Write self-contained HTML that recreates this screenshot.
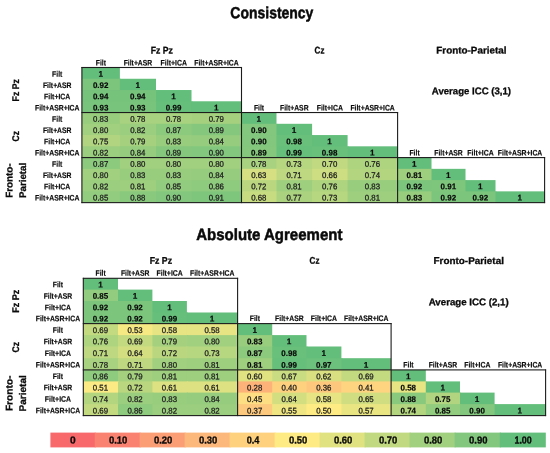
<!DOCTYPE html>
<html lang="en">
<head>
<meta charset="utf-8">
<title>ICC matrices: Consistency and Absolute Agreement</title>
<style>
html,body{margin:0;padding:0;background:#fff;}
body{width:550px;height:453px;overflow:hidden;}
svg{display:block;font-family:"Liberation Sans",sans-serif;}
</style>
</head>
<body>
<svg width="550" height="453" viewBox="0 0 550 453" text-rendering="geometricPrecision">
<rect x="0" y="0" width="550" height="453" fill="#ffffff"/>
<rect x="81.90" y="67.50" width="38.00" height="12.26" fill="#63be7b"/>
<rect x="81.90" y="78.76" width="39.00" height="12.26" fill="#7cc57c"/>
<rect x="119.90" y="78.76" width="36.10" height="12.26" fill="#63be7b"/>
<rect x="81.90" y="90.02" width="39.00" height="12.26" fill="#76c37c"/>
<rect x="119.90" y="90.02" width="37.10" height="12.26" fill="#76c37c"/>
<rect x="156.00" y="90.02" width="35.50" height="12.26" fill="#63be7b"/>
<rect x="81.90" y="101.28" width="39.00" height="12.26" fill="#79c47c"/>
<rect x="119.90" y="101.28" width="37.10" height="12.26" fill="#79c47c"/>
<rect x="156.00" y="101.28" width="36.50" height="12.26" fill="#66bf7b"/>
<rect x="191.50" y="101.28" width="50.00" height="12.26" fill="#63be7b"/>
<rect x="81.90" y="112.54" width="39.00" height="12.26" fill="#98cd7e"/>
<rect x="119.90" y="112.54" width="37.10" height="12.26" fill="#a8d27f"/>
<rect x="156.00" y="112.54" width="36.50" height="12.26" fill="#a8d27f"/>
<rect x="191.50" y="112.54" width="51.00" height="12.26" fill="#a5d17f"/>
<rect x="241.50" y="112.54" width="35.00" height="12.26" fill="#63be7b"/>
<rect x="81.90" y="123.80" width="39.00" height="12.26" fill="#a1d07f"/>
<rect x="119.90" y="123.80" width="37.10" height="12.26" fill="#9bce7e"/>
<rect x="156.00" y="123.80" width="36.50" height="12.26" fill="#8cca7d"/>
<rect x="191.50" y="123.80" width="51.00" height="12.26" fill="#85c87d"/>
<rect x="241.50" y="123.80" width="36.00" height="12.26" fill="#82c77d"/>
<rect x="276.50" y="123.80" width="35.60" height="12.26" fill="#63be7b"/>
<rect x="81.90" y="135.06" width="39.00" height="12.26" fill="#b1d480"/>
<rect x="119.90" y="135.06" width="37.10" height="12.26" fill="#a5d17f"/>
<rect x="156.00" y="135.06" width="36.50" height="12.26" fill="#98cd7e"/>
<rect x="191.50" y="135.06" width="51.00" height="12.26" fill="#95cc7e"/>
<rect x="241.50" y="135.06" width="36.00" height="12.26" fill="#82c77d"/>
<rect x="276.50" y="135.06" width="36.60" height="12.26" fill="#69c07b"/>
<rect x="312.10" y="135.06" width="35.50" height="12.26" fill="#63be7b"/>
<rect x="81.90" y="146.32" width="39.00" height="12.26" fill="#9bce7e"/>
<rect x="119.90" y="146.32" width="37.10" height="12.26" fill="#95cc7e"/>
<rect x="156.00" y="146.32" width="36.50" height="12.26" fill="#85c87d"/>
<rect x="191.50" y="146.32" width="51.00" height="12.26" fill="#82c77d"/>
<rect x="241.50" y="146.32" width="36.00" height="12.26" fill="#85c87d"/>
<rect x="276.50" y="146.32" width="36.60" height="12.26" fill="#66bf7b"/>
<rect x="312.10" y="146.32" width="36.50" height="12.26" fill="#69c07b"/>
<rect x="347.60" y="146.32" width="50.00" height="12.26" fill="#63be7b"/>
<rect x="81.90" y="157.58" width="39.00" height="12.26" fill="#8cca7d"/>
<rect x="119.90" y="157.58" width="37.10" height="12.26" fill="#a1d07f"/>
<rect x="156.00" y="157.58" width="36.50" height="12.26" fill="#a1d07f"/>
<rect x="191.50" y="157.58" width="51.00" height="12.26" fill="#a1d07f"/>
<rect x="241.50" y="157.58" width="36.00" height="12.26" fill="#a8d27f"/>
<rect x="276.50" y="157.58" width="36.60" height="12.26" fill="#b7d680"/>
<rect x="312.10" y="157.58" width="36.50" height="12.26" fill="#c1d980"/>
<rect x="347.60" y="157.58" width="51.00" height="12.26" fill="#aed47f"/>
<rect x="397.60" y="157.58" width="33.90" height="12.26" fill="#63be7b"/>
<rect x="81.90" y="168.84" width="39.00" height="12.26" fill="#a1d07f"/>
<rect x="119.90" y="168.84" width="37.10" height="12.26" fill="#98cd7e"/>
<rect x="156.00" y="168.84" width="36.50" height="12.26" fill="#98cd7e"/>
<rect x="191.50" y="168.84" width="51.00" height="12.26" fill="#95cc7e"/>
<rect x="241.50" y="168.84" width="36.00" height="12.26" fill="#d6df82"/>
<rect x="276.50" y="168.84" width="36.60" height="12.26" fill="#bdd880"/>
<rect x="312.10" y="168.84" width="36.50" height="12.26" fill="#cddd81"/>
<rect x="347.60" y="168.84" width="51.00" height="12.26" fill="#b4d580"/>
<rect x="397.60" y="168.84" width="34.90" height="12.26" fill="#9ecf7e"/>
<rect x="431.50" y="168.84" width="34.00" height="12.26" fill="#63be7b"/>
<rect x="81.90" y="180.10" width="39.00" height="12.26" fill="#9bce7e"/>
<rect x="119.90" y="180.10" width="37.10" height="12.26" fill="#9ecf7e"/>
<rect x="156.00" y="180.10" width="36.50" height="12.26" fill="#92cc7e"/>
<rect x="191.50" y="180.10" width="51.00" height="12.26" fill="#8fcb7e"/>
<rect x="241.50" y="180.10" width="36.00" height="12.26" fill="#bad780"/>
<rect x="276.50" y="180.10" width="36.60" height="12.26" fill="#9ecf7e"/>
<rect x="312.10" y="180.10" width="36.50" height="12.26" fill="#aed47f"/>
<rect x="347.60" y="180.10" width="51.00" height="12.26" fill="#98cd7e"/>
<rect x="397.60" y="180.10" width="34.90" height="12.26" fill="#7cc57c"/>
<rect x="431.50" y="180.10" width="35.00" height="12.26" fill="#7fc67d"/>
<rect x="465.50" y="180.10" width="30.00" height="12.26" fill="#63be7b"/>
<rect x="81.90" y="191.36" width="39.00" height="11.26" fill="#92cc7e"/>
<rect x="119.90" y="191.36" width="37.10" height="11.26" fill="#88c97d"/>
<rect x="156.00" y="191.36" width="36.50" height="11.26" fill="#82c77d"/>
<rect x="191.50" y="191.36" width="51.00" height="11.26" fill="#7fc67d"/>
<rect x="241.50" y="191.36" width="36.00" height="11.26" fill="#c7db81"/>
<rect x="276.50" y="191.36" width="36.60" height="11.26" fill="#abd37f"/>
<rect x="312.10" y="191.36" width="36.50" height="11.26" fill="#b7d680"/>
<rect x="347.60" y="191.36" width="51.00" height="11.26" fill="#9ecf7e"/>
<rect x="397.60" y="191.36" width="34.90" height="11.26" fill="#98cd7e"/>
<rect x="431.50" y="191.36" width="35.00" height="11.26" fill="#7cc57c"/>
<rect x="465.50" y="191.36" width="31.00" height="11.26" fill="#7cc57c"/>
<rect x="495.50" y="191.36" width="49.10" height="11.26" fill="#63be7b"/>
<rect x="81.35" y="67.00" width="1.10" height="136.12" fill="#1c1c1c"/>
<rect x="240.95" y="67.00" width="1.10" height="136.12" fill="#1c1c1c"/>
<rect x="397.05" y="112.04" width="1.10" height="91.08" fill="#1c1c1c"/>
<rect x="544.05" y="157.08" width="1.10" height="46.04" fill="#1c1c1c"/>
<rect x="81.40" y="66.95" width="160.60" height="1.10" fill="#1c1c1c"/>
<rect x="81.40" y="111.99" width="316.70" height="1.10" fill="#1c1c1c"/>
<rect x="81.40" y="157.03" width="463.70" height="1.10" fill="#1c1c1c"/>
<rect x="81.40" y="202.07" width="463.70" height="1.10" fill="#1c1c1c"/>
<text transform="translate(100.70 76.76) scale(1.0000 1) rotate(0.05)" text-anchor="middle" font-size="8.20" font-weight="700" fill="#0a0a0a" stroke="#0a0a0a" stroke-width="0.18">1</text>
<text transform="translate(100.70 88.02) scale(0.9788 1) rotate(0.05)" text-anchor="middle" font-size="8.20" font-weight="700" fill="#0a0a0a" stroke="#0a0a0a" stroke-width="0.18">0.92</text>
<text transform="translate(137.75 88.02) scale(1.0000 1) rotate(0.05)" text-anchor="middle" font-size="8.20" font-weight="700" fill="#0a0a0a" stroke="#0a0a0a" stroke-width="0.18">1</text>
<text transform="translate(100.70 99.28) scale(0.9788 1) rotate(0.05)" text-anchor="middle" font-size="8.20" font-weight="700" fill="#0a0a0a" stroke="#0a0a0a" stroke-width="0.18">0.94</text>
<text transform="translate(137.75 99.28) scale(0.9788 1) rotate(0.05)" text-anchor="middle" font-size="8.20" font-weight="700" fill="#0a0a0a" stroke="#0a0a0a" stroke-width="0.18">0.94</text>
<text transform="translate(173.55 99.28) scale(1.0000 1) rotate(0.05)" text-anchor="middle" font-size="8.20" font-weight="700" fill="#0a0a0a" stroke="#0a0a0a" stroke-width="0.18">1</text>
<text transform="translate(100.70 110.54) scale(0.9788 1) rotate(0.05)" text-anchor="middle" font-size="8.20" font-weight="700" fill="#0a0a0a" stroke="#0a0a0a" stroke-width="0.18">0.93</text>
<text transform="translate(137.75 110.54) scale(0.9788 1) rotate(0.05)" text-anchor="middle" font-size="8.20" font-weight="700" fill="#0a0a0a" stroke="#0a0a0a" stroke-width="0.18">0.93</text>
<text transform="translate(173.55 110.54) scale(0.9788 1) rotate(0.05)" text-anchor="middle" font-size="8.20" font-weight="700" fill="#0a0a0a" stroke="#0a0a0a" stroke-width="0.18">0.99</text>
<text transform="translate(216.30 110.54) scale(1.0000 1) rotate(0.05)" text-anchor="middle" font-size="8.20" font-weight="700" fill="#0a0a0a" stroke="#0a0a0a" stroke-width="0.18">1</text>
<text transform="translate(100.70 121.80) scale(0.9537 1) rotate(0.05)" text-anchor="middle" font-size="8.20" font-weight="400" fill="#1e1e1e" stroke="#1e1e1e" stroke-width="0.28">0.83</text>
<text transform="translate(137.75 121.80) scale(0.9537 1) rotate(0.05)" text-anchor="middle" font-size="8.20" font-weight="400" fill="#1e1e1e" stroke="#1e1e1e" stroke-width="0.28">0.78</text>
<text transform="translate(173.55 121.80) scale(0.9537 1) rotate(0.05)" text-anchor="middle" font-size="8.20" font-weight="400" fill="#1e1e1e" stroke="#1e1e1e" stroke-width="0.28">0.78</text>
<text transform="translate(216.30 121.80) scale(0.9537 1) rotate(0.05)" text-anchor="middle" font-size="8.20" font-weight="400" fill="#1e1e1e" stroke="#1e1e1e" stroke-width="0.28">0.79</text>
<text transform="translate(258.80 121.80) scale(1.0000 1) rotate(0.05)" text-anchor="middle" font-size="8.20" font-weight="700" fill="#0a0a0a" stroke="#0a0a0a" stroke-width="0.18">1</text>
<text transform="translate(100.70 133.06) scale(0.9537 1) rotate(0.05)" text-anchor="middle" font-size="8.20" font-weight="400" fill="#1e1e1e" stroke="#1e1e1e" stroke-width="0.28">0.80</text>
<text transform="translate(137.75 133.06) scale(0.9537 1) rotate(0.05)" text-anchor="middle" font-size="8.20" font-weight="400" fill="#1e1e1e" stroke="#1e1e1e" stroke-width="0.28">0.82</text>
<text transform="translate(173.55 133.06) scale(0.9537 1) rotate(0.05)" text-anchor="middle" font-size="8.20" font-weight="400" fill="#1e1e1e" stroke="#1e1e1e" stroke-width="0.28">0.87</text>
<text transform="translate(216.30 133.06) scale(0.9537 1) rotate(0.05)" text-anchor="middle" font-size="8.20" font-weight="400" fill="#1e1e1e" stroke="#1e1e1e" stroke-width="0.28">0.89</text>
<text transform="translate(258.80 133.06) scale(0.9788 1) rotate(0.05)" text-anchor="middle" font-size="8.20" font-weight="700" fill="#0a0a0a" stroke="#0a0a0a" stroke-width="0.18">0.90</text>
<text transform="translate(294.10 133.06) scale(1.0000 1) rotate(0.05)" text-anchor="middle" font-size="8.20" font-weight="700" fill="#0a0a0a" stroke="#0a0a0a" stroke-width="0.18">1</text>
<text transform="translate(100.70 144.32) scale(0.9537 1) rotate(0.05)" text-anchor="middle" font-size="8.20" font-weight="400" fill="#1e1e1e" stroke="#1e1e1e" stroke-width="0.28">0.75</text>
<text transform="translate(137.75 144.32) scale(0.9537 1) rotate(0.05)" text-anchor="middle" font-size="8.20" font-weight="400" fill="#1e1e1e" stroke="#1e1e1e" stroke-width="0.28">0.79</text>
<text transform="translate(173.55 144.32) scale(0.9537 1) rotate(0.05)" text-anchor="middle" font-size="8.20" font-weight="400" fill="#1e1e1e" stroke="#1e1e1e" stroke-width="0.28">0.83</text>
<text transform="translate(216.30 144.32) scale(0.9537 1) rotate(0.05)" text-anchor="middle" font-size="8.20" font-weight="400" fill="#1e1e1e" stroke="#1e1e1e" stroke-width="0.28">0.84</text>
<text transform="translate(258.80 144.32) scale(0.9788 1) rotate(0.05)" text-anchor="middle" font-size="8.20" font-weight="700" fill="#0a0a0a" stroke="#0a0a0a" stroke-width="0.18">0.90</text>
<text transform="translate(294.10 144.32) scale(0.9788 1) rotate(0.05)" text-anchor="middle" font-size="8.20" font-weight="700" fill="#0a0a0a" stroke="#0a0a0a" stroke-width="0.18">0.98</text>
<text transform="translate(329.65 144.32) scale(1.0000 1) rotate(0.05)" text-anchor="middle" font-size="8.20" font-weight="700" fill="#0a0a0a" stroke="#0a0a0a" stroke-width="0.18">1</text>
<text transform="translate(100.70 155.58) scale(0.9537 1) rotate(0.05)" text-anchor="middle" font-size="8.20" font-weight="400" fill="#1e1e1e" stroke="#1e1e1e" stroke-width="0.28">0.82</text>
<text transform="translate(137.75 155.58) scale(0.9537 1) rotate(0.05)" text-anchor="middle" font-size="8.20" font-weight="400" fill="#1e1e1e" stroke="#1e1e1e" stroke-width="0.28">0.84</text>
<text transform="translate(173.55 155.58) scale(0.9537 1) rotate(0.05)" text-anchor="middle" font-size="8.20" font-weight="400" fill="#1e1e1e" stroke="#1e1e1e" stroke-width="0.28">0.89</text>
<text transform="translate(216.30 155.58) scale(0.9537 1) rotate(0.05)" text-anchor="middle" font-size="8.20" font-weight="400" fill="#1e1e1e" stroke="#1e1e1e" stroke-width="0.28">0.90</text>
<text transform="translate(258.80 155.58) scale(0.9788 1) rotate(0.05)" text-anchor="middle" font-size="8.20" font-weight="700" fill="#0a0a0a" stroke="#0a0a0a" stroke-width="0.18">0.89</text>
<text transform="translate(294.10 155.58) scale(0.9788 1) rotate(0.05)" text-anchor="middle" font-size="8.20" font-weight="700" fill="#0a0a0a" stroke="#0a0a0a" stroke-width="0.18">0.99</text>
<text transform="translate(329.65 155.58) scale(0.9788 1) rotate(0.05)" text-anchor="middle" font-size="8.20" font-weight="700" fill="#0a0a0a" stroke="#0a0a0a" stroke-width="0.18">0.98</text>
<text transform="translate(372.40 155.58) scale(1.0000 1) rotate(0.05)" text-anchor="middle" font-size="8.20" font-weight="700" fill="#0a0a0a" stroke="#0a0a0a" stroke-width="0.18">1</text>
<text transform="translate(100.70 166.84) scale(0.9537 1) rotate(0.05)" text-anchor="middle" font-size="8.20" font-weight="400" fill="#1e1e1e" stroke="#1e1e1e" stroke-width="0.28">0.87</text>
<text transform="translate(137.75 166.84) scale(0.9537 1) rotate(0.05)" text-anchor="middle" font-size="8.20" font-weight="400" fill="#1e1e1e" stroke="#1e1e1e" stroke-width="0.28">0.80</text>
<text transform="translate(173.55 166.84) scale(0.9537 1) rotate(0.05)" text-anchor="middle" font-size="8.20" font-weight="400" fill="#1e1e1e" stroke="#1e1e1e" stroke-width="0.28">0.80</text>
<text transform="translate(216.30 166.84) scale(0.9537 1) rotate(0.05)" text-anchor="middle" font-size="8.20" font-weight="400" fill="#1e1e1e" stroke="#1e1e1e" stroke-width="0.28">0.80</text>
<text transform="translate(258.80 166.84) scale(0.9537 1) rotate(0.05)" text-anchor="middle" font-size="8.20" font-weight="400" fill="#1e1e1e" stroke="#1e1e1e" stroke-width="0.28">0.78</text>
<text transform="translate(294.10 166.84) scale(0.9537 1) rotate(0.05)" text-anchor="middle" font-size="8.20" font-weight="400" fill="#1e1e1e" stroke="#1e1e1e" stroke-width="0.28">0.73</text>
<text transform="translate(329.65 166.84) scale(0.9537 1) rotate(0.05)" text-anchor="middle" font-size="8.20" font-weight="400" fill="#1e1e1e" stroke="#1e1e1e" stroke-width="0.28">0.70</text>
<text transform="translate(372.40 166.84) scale(0.9537 1) rotate(0.05)" text-anchor="middle" font-size="8.20" font-weight="400" fill="#1e1e1e" stroke="#1e1e1e" stroke-width="0.28">0.76</text>
<text transform="translate(414.35 166.84) scale(1.0000 1) rotate(0.05)" text-anchor="middle" font-size="8.20" font-weight="700" fill="#0a0a0a" stroke="#0a0a0a" stroke-width="0.18">1</text>
<text transform="translate(100.70 178.10) scale(0.9537 1) rotate(0.05)" text-anchor="middle" font-size="8.20" font-weight="400" fill="#1e1e1e" stroke="#1e1e1e" stroke-width="0.28">0.80</text>
<text transform="translate(137.75 178.10) scale(0.9537 1) rotate(0.05)" text-anchor="middle" font-size="8.20" font-weight="400" fill="#1e1e1e" stroke="#1e1e1e" stroke-width="0.28">0.83</text>
<text transform="translate(173.55 178.10) scale(0.9537 1) rotate(0.05)" text-anchor="middle" font-size="8.20" font-weight="400" fill="#1e1e1e" stroke="#1e1e1e" stroke-width="0.28">0.83</text>
<text transform="translate(216.30 178.10) scale(0.9537 1) rotate(0.05)" text-anchor="middle" font-size="8.20" font-weight="400" fill="#1e1e1e" stroke="#1e1e1e" stroke-width="0.28">0.84</text>
<text transform="translate(258.80 178.10) scale(0.9537 1) rotate(0.05)" text-anchor="middle" font-size="8.20" font-weight="400" fill="#1e1e1e" stroke="#1e1e1e" stroke-width="0.28">0.63</text>
<text transform="translate(294.10 178.10) scale(0.9537 1) rotate(0.05)" text-anchor="middle" font-size="8.20" font-weight="400" fill="#1e1e1e" stroke="#1e1e1e" stroke-width="0.28">0.71</text>
<text transform="translate(329.65 178.10) scale(0.9537 1) rotate(0.05)" text-anchor="middle" font-size="8.20" font-weight="400" fill="#1e1e1e" stroke="#1e1e1e" stroke-width="0.28">0.66</text>
<text transform="translate(372.40 178.10) scale(0.9537 1) rotate(0.05)" text-anchor="middle" font-size="8.20" font-weight="400" fill="#1e1e1e" stroke="#1e1e1e" stroke-width="0.28">0.74</text>
<text transform="translate(414.35 178.10) scale(0.9788 1) rotate(0.05)" text-anchor="middle" font-size="8.20" font-weight="700" fill="#0a0a0a" stroke="#0a0a0a" stroke-width="0.18">0.81</text>
<text transform="translate(448.30 178.10) scale(1.0000 1) rotate(0.05)" text-anchor="middle" font-size="8.20" font-weight="700" fill="#0a0a0a" stroke="#0a0a0a" stroke-width="0.18">1</text>
<text transform="translate(100.70 189.36) scale(0.9537 1) rotate(0.05)" text-anchor="middle" font-size="8.20" font-weight="400" fill="#1e1e1e" stroke="#1e1e1e" stroke-width="0.28">0.82</text>
<text transform="translate(137.75 189.36) scale(0.9537 1) rotate(0.05)" text-anchor="middle" font-size="8.20" font-weight="400" fill="#1e1e1e" stroke="#1e1e1e" stroke-width="0.28">0.81</text>
<text transform="translate(173.55 189.36) scale(0.9537 1) rotate(0.05)" text-anchor="middle" font-size="8.20" font-weight="400" fill="#1e1e1e" stroke="#1e1e1e" stroke-width="0.28">0.85</text>
<text transform="translate(216.30 189.36) scale(0.9537 1) rotate(0.05)" text-anchor="middle" font-size="8.20" font-weight="400" fill="#1e1e1e" stroke="#1e1e1e" stroke-width="0.28">0.86</text>
<text transform="translate(258.80 189.36) scale(0.9537 1) rotate(0.05)" text-anchor="middle" font-size="8.20" font-weight="400" fill="#1e1e1e" stroke="#1e1e1e" stroke-width="0.28">0.72</text>
<text transform="translate(294.10 189.36) scale(0.9537 1) rotate(0.05)" text-anchor="middle" font-size="8.20" font-weight="400" fill="#1e1e1e" stroke="#1e1e1e" stroke-width="0.28">0.81</text>
<text transform="translate(329.65 189.36) scale(0.9537 1) rotate(0.05)" text-anchor="middle" font-size="8.20" font-weight="400" fill="#1e1e1e" stroke="#1e1e1e" stroke-width="0.28">0.76</text>
<text transform="translate(372.40 189.36) scale(0.9537 1) rotate(0.05)" text-anchor="middle" font-size="8.20" font-weight="400" fill="#1e1e1e" stroke="#1e1e1e" stroke-width="0.28">0.83</text>
<text transform="translate(414.35 189.36) scale(0.9788 1) rotate(0.05)" text-anchor="middle" font-size="8.20" font-weight="700" fill="#0a0a0a" stroke="#0a0a0a" stroke-width="0.18">0.92</text>
<text transform="translate(448.30 189.36) scale(0.9788 1) rotate(0.05)" text-anchor="middle" font-size="8.20" font-weight="700" fill="#0a0a0a" stroke="#0a0a0a" stroke-width="0.18">0.91</text>
<text transform="translate(480.30 189.36) scale(1.0000 1) rotate(0.05)" text-anchor="middle" font-size="8.20" font-weight="700" fill="#0a0a0a" stroke="#0a0a0a" stroke-width="0.18">1</text>
<text transform="translate(100.70 200.62) scale(0.9537 1) rotate(0.05)" text-anchor="middle" font-size="8.20" font-weight="400" fill="#1e1e1e" stroke="#1e1e1e" stroke-width="0.28">0.85</text>
<text transform="translate(137.75 200.62) scale(0.9537 1) rotate(0.05)" text-anchor="middle" font-size="8.20" font-weight="400" fill="#1e1e1e" stroke="#1e1e1e" stroke-width="0.28">0.88</text>
<text transform="translate(173.55 200.62) scale(0.9537 1) rotate(0.05)" text-anchor="middle" font-size="8.20" font-weight="400" fill="#1e1e1e" stroke="#1e1e1e" stroke-width="0.28">0.90</text>
<text transform="translate(216.30 200.62) scale(0.9537 1) rotate(0.05)" text-anchor="middle" font-size="8.20" font-weight="400" fill="#1e1e1e" stroke="#1e1e1e" stroke-width="0.28">0.91</text>
<text transform="translate(258.80 200.62) scale(0.9537 1) rotate(0.05)" text-anchor="middle" font-size="8.20" font-weight="400" fill="#1e1e1e" stroke="#1e1e1e" stroke-width="0.28">0.68</text>
<text transform="translate(294.10 200.62) scale(0.9537 1) rotate(0.05)" text-anchor="middle" font-size="8.20" font-weight="400" fill="#1e1e1e" stroke="#1e1e1e" stroke-width="0.28">0.77</text>
<text transform="translate(329.65 200.62) scale(0.9537 1) rotate(0.05)" text-anchor="middle" font-size="8.20" font-weight="400" fill="#1e1e1e" stroke="#1e1e1e" stroke-width="0.28">0.73</text>
<text transform="translate(372.40 200.62) scale(0.9537 1) rotate(0.05)" text-anchor="middle" font-size="8.20" font-weight="400" fill="#1e1e1e" stroke="#1e1e1e" stroke-width="0.28">0.81</text>
<text transform="translate(414.35 200.62) scale(0.9788 1) rotate(0.05)" text-anchor="middle" font-size="8.20" font-weight="700" fill="#0a0a0a" stroke="#0a0a0a" stroke-width="0.18">0.83</text>
<text transform="translate(448.30 200.62) scale(0.9788 1) rotate(0.05)" text-anchor="middle" font-size="8.20" font-weight="700" fill="#0a0a0a" stroke="#0a0a0a" stroke-width="0.18">0.92</text>
<text transform="translate(480.30 200.62) scale(0.9788 1) rotate(0.05)" text-anchor="middle" font-size="8.20" font-weight="700" fill="#0a0a0a" stroke="#0a0a0a" stroke-width="0.18">0.92</text>
<text transform="translate(519.85 200.62) scale(1.0000 1) rotate(0.05)" text-anchor="middle" font-size="8.20" font-weight="700" fill="#0a0a0a" stroke="#0a0a0a" stroke-width="0.18">1</text>
<text transform="translate(57.20 76.66) scale(0.8500 1) rotate(0.05)" text-anchor="middle" font-size="8.00" font-weight="700" fill="#0a0a0a" stroke="#0a0a0a" stroke-width="0.18">Filt</text>
<text transform="translate(57.20 87.92) scale(0.8492 1) rotate(0.05)" text-anchor="middle" font-size="8.00" font-weight="700" fill="#0a0a0a" stroke="#0a0a0a" stroke-width="0.18">Filt+ASR</text>
<text transform="translate(57.20 99.18) scale(0.8636 1) rotate(0.05)" text-anchor="middle" font-size="8.00" font-weight="700" fill="#0a0a0a" stroke="#0a0a0a" stroke-width="0.18">Filt+ICA</text>
<text transform="translate(57.20 110.44) scale(0.8536 1) rotate(0.05)" text-anchor="middle" font-size="8.00" font-weight="700" fill="#0a0a0a" stroke="#0a0a0a" stroke-width="0.18">Filt+ASR+ICA</text>
<text transform="translate(57.20 121.70) scale(0.8500 1) rotate(0.05)" text-anchor="middle" font-size="8.00" font-weight="700" fill="#0a0a0a" stroke="#0a0a0a" stroke-width="0.18">Filt</text>
<text transform="translate(57.20 132.96) scale(0.8492 1) rotate(0.05)" text-anchor="middle" font-size="8.00" font-weight="700" fill="#0a0a0a" stroke="#0a0a0a" stroke-width="0.18">Filt+ASR</text>
<text transform="translate(57.20 144.22) scale(0.8636 1) rotate(0.05)" text-anchor="middle" font-size="8.00" font-weight="700" fill="#0a0a0a" stroke="#0a0a0a" stroke-width="0.18">Filt+ICA</text>
<text transform="translate(57.20 155.48) scale(0.8536 1) rotate(0.05)" text-anchor="middle" font-size="8.00" font-weight="700" fill="#0a0a0a" stroke="#0a0a0a" stroke-width="0.18">Filt+ASR+ICA</text>
<text transform="translate(57.20 166.74) scale(0.8500 1) rotate(0.05)" text-anchor="middle" font-size="8.00" font-weight="700" fill="#0a0a0a" stroke="#0a0a0a" stroke-width="0.18">Filt</text>
<text transform="translate(57.20 178.00) scale(0.8492 1) rotate(0.05)" text-anchor="middle" font-size="8.00" font-weight="700" fill="#0a0a0a" stroke="#0a0a0a" stroke-width="0.18">Filt+ASR</text>
<text transform="translate(57.20 189.26) scale(0.8636 1) rotate(0.05)" text-anchor="middle" font-size="8.00" font-weight="700" fill="#0a0a0a" stroke="#0a0a0a" stroke-width="0.18">Filt+ICA</text>
<text transform="translate(57.20 200.52) scale(0.8536 1) rotate(0.05)" text-anchor="middle" font-size="8.00" font-weight="700" fill="#0a0a0a" stroke="#0a0a0a" stroke-width="0.18">Filt+ASR+ICA</text>
<text transform="translate(100.90 65.50) scale(0.8500 1) rotate(0.05)" text-anchor="middle" font-size="8.00" font-weight="700" fill="#0a0a0a" stroke="#0a0a0a" stroke-width="0.18">Filt</text>
<text transform="translate(137.95 65.50) scale(0.8492 1) rotate(0.05)" text-anchor="middle" font-size="8.00" font-weight="700" fill="#0a0a0a" stroke="#0a0a0a" stroke-width="0.18">Filt+ASR</text>
<text transform="translate(173.75 65.50) scale(0.8636 1) rotate(0.05)" text-anchor="middle" font-size="8.00" font-weight="700" fill="#0a0a0a" stroke="#0a0a0a" stroke-width="0.18">Filt+ICA</text>
<text transform="translate(216.50 65.50) scale(0.8536 1) rotate(0.05)" text-anchor="middle" font-size="8.00" font-weight="700" fill="#0a0a0a" stroke="#0a0a0a" stroke-width="0.18">Filt+ASR+ICA</text>
<text transform="translate(259.00 110.54) scale(0.8500 1) rotate(0.05)" text-anchor="middle" font-size="8.00" font-weight="700" fill="#0a0a0a" stroke="#0a0a0a" stroke-width="0.18">Filt</text>
<text transform="translate(294.30 110.54) scale(0.8492 1) rotate(0.05)" text-anchor="middle" font-size="8.00" font-weight="700" fill="#0a0a0a" stroke="#0a0a0a" stroke-width="0.18">Filt+ASR</text>
<text transform="translate(329.85 110.54) scale(0.8636 1) rotate(0.05)" text-anchor="middle" font-size="8.00" font-weight="700" fill="#0a0a0a" stroke="#0a0a0a" stroke-width="0.18">Filt+ICA</text>
<text transform="translate(372.60 110.54) scale(0.8536 1) rotate(0.05)" text-anchor="middle" font-size="8.00" font-weight="700" fill="#0a0a0a" stroke="#0a0a0a" stroke-width="0.18">Filt+ASR+ICA</text>
<text transform="translate(414.55 155.58) scale(0.8500 1) rotate(0.05)" text-anchor="middle" font-size="8.00" font-weight="700" fill="#0a0a0a" stroke="#0a0a0a" stroke-width="0.18">Filt</text>
<text transform="translate(448.50 155.58) scale(0.8492 1) rotate(0.05)" text-anchor="middle" font-size="8.00" font-weight="700" fill="#0a0a0a" stroke="#0a0a0a" stroke-width="0.18">Filt+ASR</text>
<text transform="translate(480.50 155.58) scale(0.8636 1) rotate(0.05)" text-anchor="middle" font-size="8.00" font-weight="700" fill="#0a0a0a" stroke="#0a0a0a" stroke-width="0.18">Filt+ICA</text>
<text transform="translate(520.05 155.58) scale(0.8536 1) rotate(0.05)" text-anchor="middle" font-size="8.00" font-weight="700" fill="#0a0a0a" stroke="#0a0a0a" stroke-width="0.18">Filt+ASR+ICA</text>
<rect x="83.30" y="278.30" width="34.70" height="12.30" fill="#63be7b"/>
<rect x="83.30" y="289.60" width="35.70" height="12.40" fill="#92cc7e"/>
<rect x="118.00" y="289.60" width="34.40" height="12.40" fill="#63be7b"/>
<rect x="83.30" y="301.00" width="35.70" height="12.50" fill="#7cc57c"/>
<rect x="118.00" y="301.00" width="35.40" height="12.50" fill="#7cc57c"/>
<rect x="152.40" y="301.00" width="34.50" height="12.50" fill="#63be7b"/>
<rect x="83.30" y="312.50" width="35.70" height="12.10" fill="#7cc57c"/>
<rect x="118.00" y="312.50" width="35.40" height="12.10" fill="#7cc57c"/>
<rect x="152.40" y="312.50" width="35.50" height="12.10" fill="#66bf7b"/>
<rect x="186.90" y="312.50" width="50.70" height="12.10" fill="#63be7b"/>
<rect x="83.30" y="323.60" width="35.70" height="12.50" fill="#c4da81"/>
<rect x="118.00" y="323.60" width="35.40" height="12.50" fill="#f6e883"/>
<rect x="152.40" y="323.60" width="35.50" height="12.50" fill="#e6e483"/>
<rect x="186.90" y="323.60" width="51.70" height="12.50" fill="#e6e483"/>
<rect x="237.60" y="323.60" width="34.60" height="12.50" fill="#63be7b"/>
<rect x="83.30" y="335.10" width="35.70" height="12.40" fill="#aed47f"/>
<rect x="118.00" y="335.10" width="35.40" height="12.40" fill="#c4da81"/>
<rect x="152.40" y="335.10" width="35.50" height="12.40" fill="#a5d17f"/>
<rect x="186.90" y="335.10" width="51.70" height="12.40" fill="#a1d07f"/>
<rect x="237.60" y="335.10" width="35.60" height="12.40" fill="#98cd7e"/>
<rect x="272.20" y="335.10" width="34.30" height="12.40" fill="#63be7b"/>
<rect x="83.30" y="346.50" width="35.70" height="12.70" fill="#bdd880"/>
<rect x="118.00" y="346.50" width="35.40" height="12.70" fill="#d3de81"/>
<rect x="152.40" y="346.50" width="35.50" height="12.70" fill="#bad780"/>
<rect x="186.90" y="346.50" width="51.70" height="12.70" fill="#b7d680"/>
<rect x="237.60" y="346.50" width="35.60" height="12.70" fill="#8cca7d"/>
<rect x="272.20" y="346.50" width="35.30" height="12.70" fill="#69c07b"/>
<rect x="306.50" y="346.50" width="34.90" height="12.70" fill="#63be7b"/>
<rect x="83.30" y="358.20" width="35.70" height="12.70" fill="#a8d27f"/>
<rect x="118.00" y="358.20" width="35.40" height="12.70" fill="#bdd880"/>
<rect x="152.40" y="358.20" width="35.50" height="12.70" fill="#a1d07f"/>
<rect x="186.90" y="358.20" width="51.70" height="12.70" fill="#9ecf7e"/>
<rect x="237.60" y="358.20" width="35.60" height="12.70" fill="#9ecf7e"/>
<rect x="272.20" y="358.20" width="35.30" height="12.70" fill="#66bf7b"/>
<rect x="306.50" y="358.20" width="35.90" height="12.70" fill="#6cc17c"/>
<rect x="341.40" y="358.20" width="49.70" height="12.70" fill="#63be7b"/>
<rect x="83.30" y="369.90" width="35.70" height="12.50" fill="#8fcb7e"/>
<rect x="118.00" y="369.90" width="35.40" height="12.50" fill="#a5d17f"/>
<rect x="152.40" y="369.90" width="35.50" height="12.50" fill="#9ecf7e"/>
<rect x="186.90" y="369.90" width="51.70" height="12.50" fill="#9ecf7e"/>
<rect x="237.60" y="369.90" width="35.60" height="12.50" fill="#e0e282"/>
<rect x="272.20" y="369.90" width="35.30" height="12.50" fill="#cadc81"/>
<rect x="306.50" y="369.90" width="35.90" height="12.50" fill="#dae082"/>
<rect x="341.40" y="369.90" width="50.70" height="12.50" fill="#c4da81"/>
<rect x="391.10" y="369.90" width="34.70" height="12.50" fill="#63be7b"/>
<rect x="83.30" y="381.40" width="35.70" height="12.20" fill="#fcea84"/>
<rect x="118.00" y="381.40" width="35.40" height="12.20" fill="#bad780"/>
<rect x="152.40" y="381.40" width="35.50" height="12.20" fill="#dde182"/>
<rect x="186.90" y="381.40" width="51.70" height="12.20" fill="#dde182"/>
<rect x="237.60" y="381.40" width="35.60" height="12.20" fill="#fcb279"/>
<rect x="272.20" y="381.40" width="35.30" height="12.20" fill="#fed17f"/>
<rect x="306.50" y="381.40" width="35.90" height="12.20" fill="#fdc77d"/>
<rect x="341.40" y="381.40" width="50.70" height="12.20" fill="#fed480"/>
<rect x="391.10" y="381.40" width="35.70" height="12.20" fill="#e6e483"/>
<rect x="425.80" y="381.40" width="34.20" height="12.20" fill="#63be7b"/>
<rect x="83.30" y="392.60" width="35.70" height="12.50" fill="#b4d580"/>
<rect x="118.00" y="392.60" width="35.40" height="12.50" fill="#9bce7e"/>
<rect x="152.40" y="392.60" width="35.50" height="12.50" fill="#98cd7e"/>
<rect x="186.90" y="392.60" width="51.70" height="12.50" fill="#95cc7e"/>
<rect x="237.60" y="392.60" width="35.60" height="12.50" fill="#fede82"/>
<rect x="272.20" y="392.60" width="35.30" height="12.50" fill="#d3de81"/>
<rect x="306.50" y="392.60" width="35.90" height="12.50" fill="#e6e483"/>
<rect x="341.40" y="392.60" width="50.70" height="12.50" fill="#d0de81"/>
<rect x="391.10" y="392.60" width="35.70" height="12.50" fill="#88c97d"/>
<rect x="425.80" y="392.60" width="35.20" height="12.50" fill="#b1d480"/>
<rect x="460.00" y="392.60" width="34.60" height="12.50" fill="#63be7b"/>
<rect x="83.30" y="404.10" width="35.70" height="11.50" fill="#c4da81"/>
<rect x="118.00" y="404.10" width="35.40" height="11.50" fill="#8fcb7e"/>
<rect x="152.40" y="404.10" width="35.50" height="11.50" fill="#9bce7e"/>
<rect x="186.90" y="404.10" width="51.70" height="11.50" fill="#9bce7e"/>
<rect x="237.60" y="404.10" width="35.60" height="11.50" fill="#fdc97e"/>
<rect x="272.20" y="404.10" width="35.30" height="11.50" fill="#efe683"/>
<rect x="306.50" y="404.10" width="35.90" height="11.50" fill="#ffeb84"/>
<rect x="341.40" y="404.10" width="50.70" height="11.50" fill="#e9e583"/>
<rect x="391.10" y="404.10" width="35.70" height="11.50" fill="#b4d580"/>
<rect x="425.80" y="404.10" width="35.20" height="11.50" fill="#92cc7e"/>
<rect x="460.00" y="404.10" width="35.60" height="11.50" fill="#82c77d"/>
<rect x="494.60" y="404.10" width="51.00" height="11.50" fill="#63be7b"/>
<rect x="82.75" y="277.80" width="1.10" height="138.30" fill="#1c1c1c"/>
<rect x="237.05" y="277.80" width="1.10" height="138.30" fill="#1c1c1c"/>
<rect x="390.55" y="323.10" width="1.10" height="93.00" fill="#1c1c1c"/>
<rect x="545.05" y="369.40" width="1.10" height="46.70" fill="#1c1c1c"/>
<rect x="82.80" y="277.75" width="155.30" height="1.10" fill="#1c1c1c"/>
<rect x="82.80" y="323.05" width="308.80" height="1.10" fill="#1c1c1c"/>
<rect x="82.80" y="369.35" width="463.30" height="1.10" fill="#1c1c1c"/>
<rect x="82.80" y="415.05" width="463.30" height="1.10" fill="#1c1c1c"/>
<text transform="translate(100.45 287.40) scale(1.0000 1) rotate(0.05)" text-anchor="middle" font-size="8.20" font-weight="700" fill="#0a0a0a" stroke="#0a0a0a" stroke-width="0.18">1</text>
<text transform="translate(100.45 298.80) scale(0.9788 1) rotate(0.05)" text-anchor="middle" font-size="8.20" font-weight="700" fill="#0a0a0a" stroke="#0a0a0a" stroke-width="0.18">0.85</text>
<text transform="translate(135.00 298.80) scale(1.0000 1) rotate(0.05)" text-anchor="middle" font-size="8.20" font-weight="700" fill="#0a0a0a" stroke="#0a0a0a" stroke-width="0.18">1</text>
<text transform="translate(100.45 310.30) scale(0.9788 1) rotate(0.05)" text-anchor="middle" font-size="8.20" font-weight="700" fill="#0a0a0a" stroke="#0a0a0a" stroke-width="0.18">0.92</text>
<text transform="translate(135.00 310.30) scale(0.9788 1) rotate(0.05)" text-anchor="middle" font-size="8.20" font-weight="700" fill="#0a0a0a" stroke="#0a0a0a" stroke-width="0.18">0.92</text>
<text transform="translate(169.45 310.30) scale(1.0000 1) rotate(0.05)" text-anchor="middle" font-size="8.20" font-weight="700" fill="#0a0a0a" stroke="#0a0a0a" stroke-width="0.18">1</text>
<text transform="translate(100.45 321.40) scale(0.9788 1) rotate(0.05)" text-anchor="middle" font-size="8.20" font-weight="700" fill="#0a0a0a" stroke="#0a0a0a" stroke-width="0.18">0.92</text>
<text transform="translate(135.00 321.40) scale(0.9788 1) rotate(0.05)" text-anchor="middle" font-size="8.20" font-weight="700" fill="#0a0a0a" stroke="#0a0a0a" stroke-width="0.18">0.92</text>
<text transform="translate(169.45 321.40) scale(0.9788 1) rotate(0.05)" text-anchor="middle" font-size="8.20" font-weight="700" fill="#0a0a0a" stroke="#0a0a0a" stroke-width="0.18">0.99</text>
<text transform="translate(212.05 321.40) scale(1.0000 1) rotate(0.05)" text-anchor="middle" font-size="8.20" font-weight="700" fill="#0a0a0a" stroke="#0a0a0a" stroke-width="0.18">1</text>
<text transform="translate(100.45 332.90) scale(0.9537 1) rotate(0.05)" text-anchor="middle" font-size="8.20" font-weight="400" fill="#1e1e1e" stroke="#1e1e1e" stroke-width="0.28">0.69</text>
<text transform="translate(135.00 332.90) scale(0.9537 1) rotate(0.05)" text-anchor="middle" font-size="8.20" font-weight="400" fill="#1e1e1e" stroke="#1e1e1e" stroke-width="0.28">0.53</text>
<text transform="translate(169.45 332.90) scale(0.9537 1) rotate(0.05)" text-anchor="middle" font-size="8.20" font-weight="400" fill="#1e1e1e" stroke="#1e1e1e" stroke-width="0.28">0.58</text>
<text transform="translate(212.05 332.90) scale(0.9537 1) rotate(0.05)" text-anchor="middle" font-size="8.20" font-weight="400" fill="#1e1e1e" stroke="#1e1e1e" stroke-width="0.28">0.58</text>
<text transform="translate(254.70 332.90) scale(1.0000 1) rotate(0.05)" text-anchor="middle" font-size="8.20" font-weight="700" fill="#0a0a0a" stroke="#0a0a0a" stroke-width="0.18">1</text>
<text transform="translate(100.45 344.30) scale(0.9537 1) rotate(0.05)" text-anchor="middle" font-size="8.20" font-weight="400" fill="#1e1e1e" stroke="#1e1e1e" stroke-width="0.28">0.76</text>
<text transform="translate(135.00 344.30) scale(0.9537 1) rotate(0.05)" text-anchor="middle" font-size="8.20" font-weight="400" fill="#1e1e1e" stroke="#1e1e1e" stroke-width="0.28">0.69</text>
<text transform="translate(169.45 344.30) scale(0.9537 1) rotate(0.05)" text-anchor="middle" font-size="8.20" font-weight="400" fill="#1e1e1e" stroke="#1e1e1e" stroke-width="0.28">0.79</text>
<text transform="translate(212.05 344.30) scale(0.9537 1) rotate(0.05)" text-anchor="middle" font-size="8.20" font-weight="400" fill="#1e1e1e" stroke="#1e1e1e" stroke-width="0.28">0.80</text>
<text transform="translate(254.70 344.30) scale(0.9788 1) rotate(0.05)" text-anchor="middle" font-size="8.20" font-weight="700" fill="#0a0a0a" stroke="#0a0a0a" stroke-width="0.18">0.83</text>
<text transform="translate(289.15 344.30) scale(1.0000 1) rotate(0.05)" text-anchor="middle" font-size="8.20" font-weight="700" fill="#0a0a0a" stroke="#0a0a0a" stroke-width="0.18">1</text>
<text transform="translate(100.45 356.00) scale(0.9537 1) rotate(0.05)" text-anchor="middle" font-size="8.20" font-weight="400" fill="#1e1e1e" stroke="#1e1e1e" stroke-width="0.28">0.71</text>
<text transform="translate(135.00 356.00) scale(0.9537 1) rotate(0.05)" text-anchor="middle" font-size="8.20" font-weight="400" fill="#1e1e1e" stroke="#1e1e1e" stroke-width="0.28">0.64</text>
<text transform="translate(169.45 356.00) scale(0.9537 1) rotate(0.05)" text-anchor="middle" font-size="8.20" font-weight="400" fill="#1e1e1e" stroke="#1e1e1e" stroke-width="0.28">0.72</text>
<text transform="translate(212.05 356.00) scale(0.9537 1) rotate(0.05)" text-anchor="middle" font-size="8.20" font-weight="400" fill="#1e1e1e" stroke="#1e1e1e" stroke-width="0.28">0.73</text>
<text transform="translate(254.70 356.00) scale(0.9788 1) rotate(0.05)" text-anchor="middle" font-size="8.20" font-weight="700" fill="#0a0a0a" stroke="#0a0a0a" stroke-width="0.18">0.87</text>
<text transform="translate(289.15 356.00) scale(0.9788 1) rotate(0.05)" text-anchor="middle" font-size="8.20" font-weight="700" fill="#0a0a0a" stroke="#0a0a0a" stroke-width="0.18">0.98</text>
<text transform="translate(323.75 356.00) scale(1.0000 1) rotate(0.05)" text-anchor="middle" font-size="8.20" font-weight="700" fill="#0a0a0a" stroke="#0a0a0a" stroke-width="0.18">1</text>
<text transform="translate(100.45 367.70) scale(0.9537 1) rotate(0.05)" text-anchor="middle" font-size="8.20" font-weight="400" fill="#1e1e1e" stroke="#1e1e1e" stroke-width="0.28">0.78</text>
<text transform="translate(135.00 367.70) scale(0.9537 1) rotate(0.05)" text-anchor="middle" font-size="8.20" font-weight="400" fill="#1e1e1e" stroke="#1e1e1e" stroke-width="0.28">0.71</text>
<text transform="translate(169.45 367.70) scale(0.9537 1) rotate(0.05)" text-anchor="middle" font-size="8.20" font-weight="400" fill="#1e1e1e" stroke="#1e1e1e" stroke-width="0.28">0.80</text>
<text transform="translate(212.05 367.70) scale(0.9537 1) rotate(0.05)" text-anchor="middle" font-size="8.20" font-weight="400" fill="#1e1e1e" stroke="#1e1e1e" stroke-width="0.28">0.81</text>
<text transform="translate(254.70 367.70) scale(0.9788 1) rotate(0.05)" text-anchor="middle" font-size="8.20" font-weight="700" fill="#0a0a0a" stroke="#0a0a0a" stroke-width="0.18">0.81</text>
<text transform="translate(289.15 367.70) scale(0.9788 1) rotate(0.05)" text-anchor="middle" font-size="8.20" font-weight="700" fill="#0a0a0a" stroke="#0a0a0a" stroke-width="0.18">0.99</text>
<text transform="translate(323.75 367.70) scale(0.9788 1) rotate(0.05)" text-anchor="middle" font-size="8.20" font-weight="700" fill="#0a0a0a" stroke="#0a0a0a" stroke-width="0.18">0.97</text>
<text transform="translate(366.05 367.70) scale(1.0000 1) rotate(0.05)" text-anchor="middle" font-size="8.20" font-weight="700" fill="#0a0a0a" stroke="#0a0a0a" stroke-width="0.18">1</text>
<text transform="translate(100.45 379.20) scale(0.9537 1) rotate(0.05)" text-anchor="middle" font-size="8.20" font-weight="400" fill="#1e1e1e" stroke="#1e1e1e" stroke-width="0.28">0.86</text>
<text transform="translate(135.00 379.20) scale(0.9537 1) rotate(0.05)" text-anchor="middle" font-size="8.20" font-weight="400" fill="#1e1e1e" stroke="#1e1e1e" stroke-width="0.28">0.79</text>
<text transform="translate(169.45 379.20) scale(0.9537 1) rotate(0.05)" text-anchor="middle" font-size="8.20" font-weight="400" fill="#1e1e1e" stroke="#1e1e1e" stroke-width="0.28">0.81</text>
<text transform="translate(212.05 379.20) scale(0.9537 1) rotate(0.05)" text-anchor="middle" font-size="8.20" font-weight="400" fill="#1e1e1e" stroke="#1e1e1e" stroke-width="0.28">0.81</text>
<text transform="translate(254.70 379.20) scale(0.9537 1) rotate(0.05)" text-anchor="middle" font-size="8.20" font-weight="400" fill="#1e1e1e" stroke="#1e1e1e" stroke-width="0.28">0.60</text>
<text transform="translate(289.15 379.20) scale(0.9537 1) rotate(0.05)" text-anchor="middle" font-size="8.20" font-weight="400" fill="#1e1e1e" stroke="#1e1e1e" stroke-width="0.28">0.67</text>
<text transform="translate(323.75 379.20) scale(0.9537 1) rotate(0.05)" text-anchor="middle" font-size="8.20" font-weight="400" fill="#1e1e1e" stroke="#1e1e1e" stroke-width="0.28">0.62</text>
<text transform="translate(366.05 379.20) scale(0.9537 1) rotate(0.05)" text-anchor="middle" font-size="8.20" font-weight="400" fill="#1e1e1e" stroke="#1e1e1e" stroke-width="0.28">0.69</text>
<text transform="translate(408.25 379.20) scale(1.0000 1) rotate(0.05)" text-anchor="middle" font-size="8.20" font-weight="700" fill="#0a0a0a" stroke="#0a0a0a" stroke-width="0.18">1</text>
<text transform="translate(100.45 390.40) scale(0.9537 1) rotate(0.05)" text-anchor="middle" font-size="8.20" font-weight="400" fill="#1e1e1e" stroke="#1e1e1e" stroke-width="0.28">0.51</text>
<text transform="translate(135.00 390.40) scale(0.9537 1) rotate(0.05)" text-anchor="middle" font-size="8.20" font-weight="400" fill="#1e1e1e" stroke="#1e1e1e" stroke-width="0.28">0.72</text>
<text transform="translate(169.45 390.40) scale(0.9537 1) rotate(0.05)" text-anchor="middle" font-size="8.20" font-weight="400" fill="#1e1e1e" stroke="#1e1e1e" stroke-width="0.28">0.61</text>
<text transform="translate(212.05 390.40) scale(0.9537 1) rotate(0.05)" text-anchor="middle" font-size="8.20" font-weight="400" fill="#1e1e1e" stroke="#1e1e1e" stroke-width="0.28">0.61</text>
<text transform="translate(254.70 390.40) scale(0.9537 1) rotate(0.05)" text-anchor="middle" font-size="8.20" font-weight="400" fill="#1e1e1e" stroke="#1e1e1e" stroke-width="0.28">0.28</text>
<text transform="translate(289.15 390.40) scale(0.9537 1) rotate(0.05)" text-anchor="middle" font-size="8.20" font-weight="400" fill="#1e1e1e" stroke="#1e1e1e" stroke-width="0.28">0.40</text>
<text transform="translate(323.75 390.40) scale(0.9537 1) rotate(0.05)" text-anchor="middle" font-size="8.20" font-weight="400" fill="#1e1e1e" stroke="#1e1e1e" stroke-width="0.28">0.36</text>
<text transform="translate(366.05 390.40) scale(0.9537 1) rotate(0.05)" text-anchor="middle" font-size="8.20" font-weight="400" fill="#1e1e1e" stroke="#1e1e1e" stroke-width="0.28">0.41</text>
<text transform="translate(408.25 390.40) scale(0.9788 1) rotate(0.05)" text-anchor="middle" font-size="8.20" font-weight="700" fill="#0a0a0a" stroke="#0a0a0a" stroke-width="0.18">0.58</text>
<text transform="translate(442.70 390.40) scale(1.0000 1) rotate(0.05)" text-anchor="middle" font-size="8.20" font-weight="700" fill="#0a0a0a" stroke="#0a0a0a" stroke-width="0.18">1</text>
<text transform="translate(100.45 401.90) scale(0.9537 1) rotate(0.05)" text-anchor="middle" font-size="8.20" font-weight="400" fill="#1e1e1e" stroke="#1e1e1e" stroke-width="0.28">0.74</text>
<text transform="translate(135.00 401.90) scale(0.9537 1) rotate(0.05)" text-anchor="middle" font-size="8.20" font-weight="400" fill="#1e1e1e" stroke="#1e1e1e" stroke-width="0.28">0.82</text>
<text transform="translate(169.45 401.90) scale(0.9537 1) rotate(0.05)" text-anchor="middle" font-size="8.20" font-weight="400" fill="#1e1e1e" stroke="#1e1e1e" stroke-width="0.28">0.83</text>
<text transform="translate(212.05 401.90) scale(0.9537 1) rotate(0.05)" text-anchor="middle" font-size="8.20" font-weight="400" fill="#1e1e1e" stroke="#1e1e1e" stroke-width="0.28">0.84</text>
<text transform="translate(254.70 401.90) scale(0.9537 1) rotate(0.05)" text-anchor="middle" font-size="8.20" font-weight="400" fill="#1e1e1e" stroke="#1e1e1e" stroke-width="0.28">0.45</text>
<text transform="translate(289.15 401.90) scale(0.9537 1) rotate(0.05)" text-anchor="middle" font-size="8.20" font-weight="400" fill="#1e1e1e" stroke="#1e1e1e" stroke-width="0.28">0.64</text>
<text transform="translate(323.75 401.90) scale(0.9537 1) rotate(0.05)" text-anchor="middle" font-size="8.20" font-weight="400" fill="#1e1e1e" stroke="#1e1e1e" stroke-width="0.28">0.58</text>
<text transform="translate(366.05 401.90) scale(0.9537 1) rotate(0.05)" text-anchor="middle" font-size="8.20" font-weight="400" fill="#1e1e1e" stroke="#1e1e1e" stroke-width="0.28">0.65</text>
<text transform="translate(408.25 401.90) scale(0.9788 1) rotate(0.05)" text-anchor="middle" font-size="8.20" font-weight="700" fill="#0a0a0a" stroke="#0a0a0a" stroke-width="0.18">0.88</text>
<text transform="translate(442.70 401.90) scale(0.9788 1) rotate(0.05)" text-anchor="middle" font-size="8.20" font-weight="700" fill="#0a0a0a" stroke="#0a0a0a" stroke-width="0.18">0.75</text>
<text transform="translate(477.10 401.90) scale(1.0000 1) rotate(0.05)" text-anchor="middle" font-size="8.20" font-weight="700" fill="#0a0a0a" stroke="#0a0a0a" stroke-width="0.18">1</text>
<text transform="translate(100.45 413.40) scale(0.9537 1) rotate(0.05)" text-anchor="middle" font-size="8.20" font-weight="400" fill="#1e1e1e" stroke="#1e1e1e" stroke-width="0.28">0.69</text>
<text transform="translate(135.00 413.40) scale(0.9537 1) rotate(0.05)" text-anchor="middle" font-size="8.20" font-weight="400" fill="#1e1e1e" stroke="#1e1e1e" stroke-width="0.28">0.86</text>
<text transform="translate(169.45 413.40) scale(0.9537 1) rotate(0.05)" text-anchor="middle" font-size="8.20" font-weight="400" fill="#1e1e1e" stroke="#1e1e1e" stroke-width="0.28">0.82</text>
<text transform="translate(212.05 413.40) scale(0.9537 1) rotate(0.05)" text-anchor="middle" font-size="8.20" font-weight="400" fill="#1e1e1e" stroke="#1e1e1e" stroke-width="0.28">0.82</text>
<text transform="translate(254.70 413.40) scale(0.9537 1) rotate(0.05)" text-anchor="middle" font-size="8.20" font-weight="400" fill="#1e1e1e" stroke="#1e1e1e" stroke-width="0.28">0.37</text>
<text transform="translate(289.15 413.40) scale(0.9537 1) rotate(0.05)" text-anchor="middle" font-size="8.20" font-weight="400" fill="#1e1e1e" stroke="#1e1e1e" stroke-width="0.28">0.55</text>
<text transform="translate(323.75 413.40) scale(0.9537 1) rotate(0.05)" text-anchor="middle" font-size="8.20" font-weight="400" fill="#1e1e1e" stroke="#1e1e1e" stroke-width="0.28">0.50</text>
<text transform="translate(366.05 413.40) scale(0.9537 1) rotate(0.05)" text-anchor="middle" font-size="8.20" font-weight="400" fill="#1e1e1e" stroke="#1e1e1e" stroke-width="0.28">0.57</text>
<text transform="translate(408.25 413.40) scale(0.9788 1) rotate(0.05)" text-anchor="middle" font-size="8.20" font-weight="700" fill="#0a0a0a" stroke="#0a0a0a" stroke-width="0.18">0.74</text>
<text transform="translate(442.70 413.40) scale(0.9788 1) rotate(0.05)" text-anchor="middle" font-size="8.20" font-weight="700" fill="#0a0a0a" stroke="#0a0a0a" stroke-width="0.18">0.85</text>
<text transform="translate(477.10 413.40) scale(0.9788 1) rotate(0.05)" text-anchor="middle" font-size="8.20" font-weight="700" fill="#0a0a0a" stroke="#0a0a0a" stroke-width="0.18">0.90</text>
<text transform="translate(519.90 413.40) scale(1.0000 1) rotate(0.05)" text-anchor="middle" font-size="8.20" font-weight="700" fill="#0a0a0a" stroke="#0a0a0a" stroke-width="0.18">1</text>
<text transform="translate(57.90 287.30) scale(0.8500 1) rotate(0.05)" text-anchor="middle" font-size="8.00" font-weight="700" fill="#0a0a0a" stroke="#0a0a0a" stroke-width="0.18">Filt</text>
<text transform="translate(57.90 298.70) scale(0.8492 1) rotate(0.05)" text-anchor="middle" font-size="8.00" font-weight="700" fill="#0a0a0a" stroke="#0a0a0a" stroke-width="0.18">Filt+ASR</text>
<text transform="translate(57.90 310.20) scale(0.8636 1) rotate(0.05)" text-anchor="middle" font-size="8.00" font-weight="700" fill="#0a0a0a" stroke="#0a0a0a" stroke-width="0.18">Filt+ICA</text>
<text transform="translate(57.90 321.30) scale(0.8536 1) rotate(0.05)" text-anchor="middle" font-size="8.00" font-weight="700" fill="#0a0a0a" stroke="#0a0a0a" stroke-width="0.18">Filt+ASR+ICA</text>
<text transform="translate(57.90 332.80) scale(0.8500 1) rotate(0.05)" text-anchor="middle" font-size="8.00" font-weight="700" fill="#0a0a0a" stroke="#0a0a0a" stroke-width="0.18">Filt</text>
<text transform="translate(57.90 344.20) scale(0.8492 1) rotate(0.05)" text-anchor="middle" font-size="8.00" font-weight="700" fill="#0a0a0a" stroke="#0a0a0a" stroke-width="0.18">Filt+ASR</text>
<text transform="translate(57.90 355.90) scale(0.8636 1) rotate(0.05)" text-anchor="middle" font-size="8.00" font-weight="700" fill="#0a0a0a" stroke="#0a0a0a" stroke-width="0.18">Filt+ICA</text>
<text transform="translate(57.90 367.60) scale(0.8536 1) rotate(0.05)" text-anchor="middle" font-size="8.00" font-weight="700" fill="#0a0a0a" stroke="#0a0a0a" stroke-width="0.18">Filt+ASR+ICA</text>
<text transform="translate(57.90 379.10) scale(0.8500 1) rotate(0.05)" text-anchor="middle" font-size="8.00" font-weight="700" fill="#0a0a0a" stroke="#0a0a0a" stroke-width="0.18">Filt</text>
<text transform="translate(57.90 390.30) scale(0.8492 1) rotate(0.05)" text-anchor="middle" font-size="8.00" font-weight="700" fill="#0a0a0a" stroke="#0a0a0a" stroke-width="0.18">Filt+ASR</text>
<text transform="translate(57.90 401.80) scale(0.8636 1) rotate(0.05)" text-anchor="middle" font-size="8.00" font-weight="700" fill="#0a0a0a" stroke="#0a0a0a" stroke-width="0.18">Filt+ICA</text>
<text transform="translate(57.90 413.30) scale(0.8536 1) rotate(0.05)" text-anchor="middle" font-size="8.00" font-weight="700" fill="#0a0a0a" stroke="#0a0a0a" stroke-width="0.18">Filt+ASR+ICA</text>
<text transform="translate(100.65 275.80) scale(0.8500 1) rotate(0.05)" text-anchor="middle" font-size="8.00" font-weight="700" fill="#0a0a0a" stroke="#0a0a0a" stroke-width="0.18">Filt</text>
<text transform="translate(135.20 275.80) scale(0.8492 1) rotate(0.05)" text-anchor="middle" font-size="8.00" font-weight="700" fill="#0a0a0a" stroke="#0a0a0a" stroke-width="0.18">Filt+ASR</text>
<text transform="translate(169.65 275.80) scale(0.8636 1) rotate(0.05)" text-anchor="middle" font-size="8.00" font-weight="700" fill="#0a0a0a" stroke="#0a0a0a" stroke-width="0.18">Filt+ICA</text>
<text transform="translate(212.25 275.80) scale(0.8536 1) rotate(0.05)" text-anchor="middle" font-size="8.00" font-weight="700" fill="#0a0a0a" stroke="#0a0a0a" stroke-width="0.18">Filt+ASR+ICA</text>
<text transform="translate(254.90 321.10) scale(0.8500 1) rotate(0.05)" text-anchor="middle" font-size="8.00" font-weight="700" fill="#0a0a0a" stroke="#0a0a0a" stroke-width="0.18">Filt</text>
<text transform="translate(289.35 321.10) scale(0.8492 1) rotate(0.05)" text-anchor="middle" font-size="8.00" font-weight="700" fill="#0a0a0a" stroke="#0a0a0a" stroke-width="0.18">Filt+ASR</text>
<text transform="translate(323.95 321.10) scale(0.8636 1) rotate(0.05)" text-anchor="middle" font-size="8.00" font-weight="700" fill="#0a0a0a" stroke="#0a0a0a" stroke-width="0.18">Filt+ICA</text>
<text transform="translate(366.25 321.10) scale(0.8536 1) rotate(0.05)" text-anchor="middle" font-size="8.00" font-weight="700" fill="#0a0a0a" stroke="#0a0a0a" stroke-width="0.18">Filt+ASR+ICA</text>
<text transform="translate(408.45 367.40) scale(0.8500 1) rotate(0.05)" text-anchor="middle" font-size="8.00" font-weight="700" fill="#0a0a0a" stroke="#0a0a0a" stroke-width="0.18">Filt</text>
<text transform="translate(442.90 367.40) scale(0.8492 1) rotate(0.05)" text-anchor="middle" font-size="8.00" font-weight="700" fill="#0a0a0a" stroke="#0a0a0a" stroke-width="0.18">Filt+ASR</text>
<text transform="translate(477.30 367.40) scale(0.8636 1) rotate(0.05)" text-anchor="middle" font-size="8.00" font-weight="700" fill="#0a0a0a" stroke="#0a0a0a" stroke-width="0.18">Filt+ICA</text>
<text transform="translate(520.10 367.40) scale(0.8536 1) rotate(0.05)" text-anchor="middle" font-size="8.00" font-weight="700" fill="#0a0a0a" stroke="#0a0a0a" stroke-width="0.18">Filt+ASR+ICA</text>
<text transform="translate(271.85 18.30) scale(0.8622 1) rotate(0.05)" text-anchor="middle" font-size="16.20" font-weight="700" fill="#0a0a0a" stroke="#0a0a0a" stroke-width="0.49">Consistency</text>
<text transform="translate(269.30 240.00) scale(0.9271 1) rotate(0.05)" text-anchor="middle" font-size="16.20" font-weight="700" fill="#0a0a0a" stroke="#0a0a0a" stroke-width="0.49">Absolute Agreement</text>
<text transform="translate(161.80 53.60) scale(0.9004 1) rotate(0.05)" text-anchor="middle" font-size="9.70" font-weight="700" fill="#0a0a0a" stroke="#0a0a0a" stroke-width="0.29">Fz Pz</text>
<text transform="translate(319.50 53.60) scale(0.8274 1) rotate(0.05)" text-anchor="middle" font-size="9.70" font-weight="700" fill="#0a0a0a" stroke="#0a0a0a" stroke-width="0.29">Cz</text>
<text transform="translate(471.40 53.50) scale(1.0188 1) rotate(0.05)" text-anchor="middle" font-size="9.70" font-weight="700" fill="#0a0a0a" stroke="#0a0a0a" stroke-width="0.29">Fronto-Parietal</text>
<text transform="translate(471.40 94.30) scale(0.9915 1) rotate(0.05)" text-anchor="middle" font-size="9.70" font-weight="700" fill="#0a0a0a" stroke="#0a0a0a" stroke-width="0.29">Average ICC (3,1)</text>
<text transform="translate(160.90 263.70) scale(0.9045 1) rotate(0.05)" text-anchor="middle" font-size="9.70" font-weight="700" fill="#0a0a0a" stroke="#0a0a0a" stroke-width="0.29">Fz Pz</text>
<text transform="translate(314.50 263.70) scale(0.8274 1) rotate(0.05)" text-anchor="middle" font-size="9.70" font-weight="700" fill="#0a0a0a" stroke="#0a0a0a" stroke-width="0.29">Cz</text>
<text transform="translate(468.70 263.90) scale(1.0217 1) rotate(0.05)" text-anchor="middle" font-size="9.70" font-weight="700" fill="#0a0a0a" stroke="#0a0a0a" stroke-width="0.29">Fronto-Parietal</text>
<text transform="translate(468.70 305.30) scale(1.0016 1) rotate(0.05)" text-anchor="middle" font-size="9.70" font-weight="700" fill="#0a0a0a" stroke="#0a0a0a" stroke-width="0.29">Average ICC (2,1)</text>
<text transform="translate(18.90 90.30) rotate(-90) scale(0.9004 1) rotate(0.05)" text-anchor="middle" font-size="9.70" font-weight="700" fill="#0a0a0a" stroke="#0a0a0a" stroke-width="0.29">Fz Pz</text>
<text transform="translate(19.10 136.30) rotate(-90) scale(0.8697 1) rotate(0.05)" text-anchor="middle" font-size="9.70" font-weight="700" fill="#0a0a0a" stroke="#0a0a0a" stroke-width="0.29">Cz</text>
<text transform="translate(12.40 180.60) rotate(-90) scale(1.0175 1) rotate(0.05)" text-anchor="middle" font-size="9.70" font-weight="700" fill="#0a0a0a" stroke="#0a0a0a" stroke-width="0.29">Fronto-</text>
<text transform="translate(25.90 180.40) rotate(-90) scale(1.0053 1) rotate(0.05)" text-anchor="middle" font-size="9.70" font-weight="700" fill="#0a0a0a" stroke="#0a0a0a" stroke-width="0.29">Parietal</text>
<text transform="translate(18.90 301.30) rotate(-90) scale(0.9287 1) rotate(0.05)" text-anchor="middle" font-size="9.70" font-weight="700" fill="#0a0a0a" stroke="#0a0a0a" stroke-width="0.29">Fz Pz</text>
<text transform="translate(18.90 347.30) rotate(-90) scale(0.8950 1) rotate(0.05)" text-anchor="middle" font-size="9.70" font-weight="700" fill="#0a0a0a" stroke="#0a0a0a" stroke-width="0.29">Cz</text>
<text transform="translate(12.40 393.30) rotate(-90) scale(1.0500 1) rotate(0.05)" text-anchor="middle" font-size="9.70" font-weight="700" fill="#0a0a0a" stroke="#0a0a0a" stroke-width="0.29">Fronto-</text>
<text transform="translate(25.90 393.30) rotate(-90) scale(1.0338 1) rotate(0.05)" text-anchor="middle" font-size="9.70" font-weight="700" fill="#0a0a0a" stroke="#0a0a0a" stroke-width="0.29">Parietal</text>
<rect x="50.40" y="432.60" width="45.30" height="14.80" fill="#f8696b"/>
<text transform="translate(72.85 443.50) scale(1.0000 1) rotate(0.05)" text-anchor="middle" font-size="10.20" font-weight="700" fill="#0a0a0a" stroke="#0a0a0a" stroke-width="0.31">0</text>
<rect x="94.70" y="432.60" width="45.90" height="14.80" fill="#f98370"/>
<text transform="translate(118.15 443.50) scale(0.9280 1) rotate(0.05)" text-anchor="middle" font-size="10.20" font-weight="700" fill="#0a0a0a" stroke="#0a0a0a" stroke-width="0.31">0.10</text>
<rect x="139.60" y="432.60" width="46.00" height="14.80" fill="#fb9d75"/>
<text transform="translate(163.10 443.50) scale(0.9280 1) rotate(0.05)" text-anchor="middle" font-size="10.20" font-weight="700" fill="#0a0a0a" stroke="#0a0a0a" stroke-width="0.31">0.20</text>
<rect x="184.60" y="432.60" width="46.00" height="14.80" fill="#fcb77a"/>
<text transform="translate(208.10 443.50) scale(0.9280 1) rotate(0.05)" text-anchor="middle" font-size="10.20" font-weight="700" fill="#0a0a0a" stroke="#0a0a0a" stroke-width="0.31">0.30</text>
<rect x="229.60" y="432.60" width="46.00" height="14.80" fill="#fed17f"/>
<text transform="translate(253.10 443.50) scale(0.8961 1) rotate(0.05)" text-anchor="middle" font-size="10.20" font-weight="700" fill="#0a0a0a" stroke="#0a0a0a" stroke-width="0.31">0.4</text>
<rect x="274.60" y="432.60" width="46.00" height="14.80" fill="#ffeb84"/>
<text transform="translate(298.10 443.50) scale(0.9280 1) rotate(0.05)" text-anchor="middle" font-size="10.20" font-weight="700" fill="#0a0a0a" stroke="#0a0a0a" stroke-width="0.31">0.50</text>
<rect x="319.60" y="432.60" width="46.00" height="14.80" fill="#e0e282"/>
<text transform="translate(343.10 443.50) scale(0.9280 1) rotate(0.05)" text-anchor="middle" font-size="10.20" font-weight="700" fill="#0a0a0a" stroke="#0a0a0a" stroke-width="0.31">0.60</text>
<rect x="364.60" y="432.60" width="46.00" height="14.80" fill="#c1d980"/>
<text transform="translate(388.10 443.50) scale(0.9280 1) rotate(0.05)" text-anchor="middle" font-size="10.20" font-weight="700" fill="#0a0a0a" stroke="#0a0a0a" stroke-width="0.31">0.70</text>
<rect x="409.60" y="432.60" width="46.00" height="14.80" fill="#a1d07f"/>
<text transform="translate(433.10 443.50) scale(0.9280 1) rotate(0.05)" text-anchor="middle" font-size="10.20" font-weight="700" fill="#0a0a0a" stroke="#0a0a0a" stroke-width="0.31">0.80</text>
<rect x="454.60" y="432.60" width="46.20" height="14.80" fill="#82c77d"/>
<text transform="translate(478.20 443.50) scale(0.9280 1) rotate(0.05)" text-anchor="middle" font-size="10.20" font-weight="700" fill="#0a0a0a" stroke="#0a0a0a" stroke-width="0.31">0.90</text>
<rect x="499.80" y="432.60" width="46.00" height="14.80" fill="#63be7b"/>
<text transform="translate(523.10 443.50) scale(0.8775 1) rotate(0.05)" text-anchor="middle" font-size="10.20" font-weight="700" fill="#0a0a0a" stroke="#0a0a0a" stroke-width="0.31">1.00</text>
</svg>
</body>
</html>
